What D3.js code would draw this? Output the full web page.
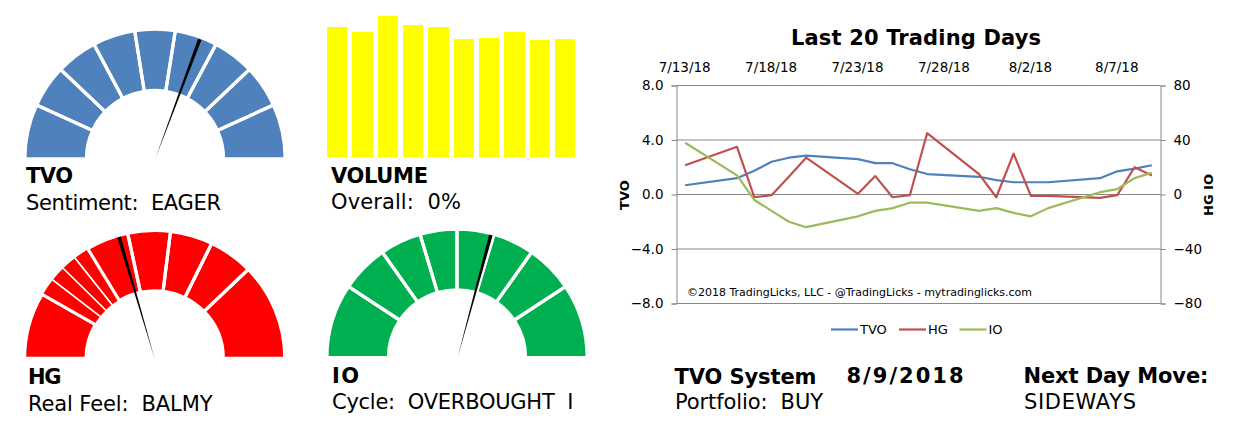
<!DOCTYPE html>
<html>
<head>
<meta charset="utf-8">
<title>TVO System</title>
<script src="https://cdnjs.cloudflare.com/ajax/libs/d3/7.8.5/d3.min.js"></script>
<style>
html, body { margin: 0; padding: 0; background: #fff; }
svg { display: block; }
text { font-family: "DejaVu Sans", Verdana, sans-serif; fill: #000; white-space: pre; }
.head { font-size: 21px; font-weight: bold; }
.sub { font-size: 21px; }
.axis-title { font-size: 13px; font-weight: bold; }
</style>
</head>
<body>
<svg id="chart" width="1240" height="440"></svg>
<script>
// gauge slices, in degrees round the half circle
var tvoSlices = [24.5, 19, 18.5, 19, 18, 19, 18.5, 19, 24.5];
var hgSlices = [30, 8, 7, 7, 7, 19, 19, 19, 20, 44];
var ioSlices = [33.5, 21.5, 18.5, 16.5, 16.5, 18.5, 21.5, 33.5];

// needle readings, same degrees
var tvoNeedle = 110.4;
var hgNeedle = 73.7;
var ioNeedle = 105.2;

var volume = [130, 125, 141, 132, 130, 118, 119, 125, 117, 118];

var days = ['7/13/18', '7/16/18', '7/17/18', '7/18/18', '7/19/18', '7/20/18', '7/23/18',
    '7/24/18', '7/25/18', '7/26/18', '7/27/18', '7/30/18', '7/31/18', '8/1/18', '8/2/18',
    '8/3/18', '8/6/18', '8/7/18', '8/8/18', '8/9/18'];
var tvo = [0.68, 1.2, 1.75, 2.4, 2.7, 2.85, 2.6, 2.3, 2.3, 1.85, 1.5, 1.3, 1.05, 0.9, 0.9,
    0.9, 1.2, 1.7, 1.9, 2.15];
var hg = [21.5, 35, -2, -0.5, 13, 27, 0.5, 13.5, -2, -0.5, 45, 15, -2, 30, -1,
    -1, -2.5, -0.5, 20, 14];
var io = [38, 14, -4, -12, -20, -24, -16, -12, -10, -6, -6, -12, -10, -13.5, -16,
    -10, 1.7, 4, 12, 16];

var dateTicks = ['7/13/18', '7/18/18', '7/23/18', '7/28/18', '8/2/18', '8/7/18'];
var leftTicks = [-8, -4, 0, 4, 8];
var rightTicks = [-80, -40, 0, 40, 80];

var svg = d3.select('#chart');

function drawGauge(slices, reading, color, cx, cy, baseX, baseY, ry) {
    var pie = d3.pie().sort(null).value(function (d) { return d; })
        .startAngle(-Math.PI / 2).endAngle(Math.PI / 2);
    var arc = d3.arc().innerRadius(68.6).outerRadius(130.1);
    var g = svg.append('g')
        .attr('transform', 'translate(' + cx + ',' + cy + ') scale(1,' + ry + ')');
    var arcs = pie(slices);

    g.selectAll('path.fill').data(arcs).enter().append('path')
        .attr('class', 'fill')
        .attr('d', arc)
        .style('fill', color);
    // white borders go on after all fills, small slices get a thinner one
    g.selectAll('path.edge').data(arcs).enter().append('path')
        .attr('class', 'edge')
        .attr('d', arc)
        .style('fill', 'none')
        .style('stroke', '#fff')
        .style('stroke-width', function (d) { return d.data < 10 ? 1.4 : 3.2; });

    var angle = d3.scaleLinear().domain([0, 180]).range([Math.PI, 0]);
    var a = angle(reading);
    var len = 127;
    var tipX = baseX + len * Math.cos(a);
    var tipY = baseY - len * Math.sin(a);
    var nx = Math.sin(a) * 1.8;
    var ny = Math.cos(a) * 1.8;
    svg.append('path')
        .attr('d', d3.line()([[baseX, baseY], [tipX - nx, tipY - ny], [tipX + nx, tipY + ny]]) + 'Z')
        .style('fill', '#000');
}

// width is the length, font metrics differ a little
function label(x, y, cls, str, width) {
    svg.append('text').attr('class', cls).attr('x', x).attr('y', y)
        .attr('textLength', width)
        .text(str);
}

drawGauge(tvoSlices, tvoNeedle, '#4F81BD', 155, 158.8, 155.5, 158.3, 0.997);
drawGauge(hgSlices, hgNeedle, '#FF0000', 154.7, 358.3, 154.7, 359, 0.983);
drawGauge(ioSlices, ioNeedle, '#00B050', 457, 357.6, 457.6, 357.5, 0.988);

label(26, 183, 'head', 'TVO', 47);
label(26, 210, 'sub', 'Sentiment:  EAGER', 195);
label(28, 384, 'head', 'HG', 33.5);
label(28, 410.5, 'sub', 'Real Feel:  BALMY', 184.5);
label(331, 183, 'head', 'VOLUME', 97);
label(331, 208.5, 'sub', 'Overall:  0%', 130);
label(332, 383, 'head', 'IO', 27);
label(332, 409, 'sub', 'Cycle:  OVERBOUGHT  I', 241.5);

// volume bars
var volX = d3.scaleBand().domain(d3.range(volume.length))
    .range([324.5, 577.8]).paddingInner(0.2).paddingOuter(0.1);
var volY = d3.scaleLinear().domain([0, 141]).range([157, 16]);
svg.selectAll('rect.vol').data(volume).enter().append('rect')
    .attr('class', 'vol')
    .attr('x', function (d, i) { return volX(i); })
    .attr('y', function (d) { return volY(d); })
    .attr('width', volX.bandwidth())
    .attr('height', function (d) { return volY(0) - volY(d); })
    .attr('shape-rendering', 'crispEdges')
    .style('fill', '#FFFF00');

// line chart
var parseDay = d3.utcParse('%-m/%-d/%y');
var dates = days.map(parseDay);
var halfDay = 12 * 60 * 60 * 1000;
var plot = { left: 676.5, right: 1160.5, top: 85.5, bottom: 303.5 };

var x = d3.scaleUtc()
    .domain([new Date(+dates[0] - halfDay), new Date(+dates[dates.length - 1] + halfDay)])
    .range([plot.left, plot.right]);
var yLeft = d3.scaleLinear().domain([-8, 8]).range([plot.bottom, plot.top]);
var yRight = d3.scaleLinear().domain([-80, 80]).range([plot.bottom, plot.top]);

var axisColor = '#868686';

var leftAxis = svg.append('g')
    .attr('transform', 'translate(' + plot.left + ',0)')
    .call(d3.axisLeft(yLeft).tickValues(leftTicks).tickSize(5).tickPadding(8)
        .tickFormat(d3.format('.1f')));
var rightAxis = svg.append('g')
    .attr('transform', 'translate(' + plot.right + ',0)')
    .call(d3.axisRight(yRight).tickValues(rightTicks).tickSize(5).tickPadding(8)
        .tickFormat(d3.format('d')));
var topAxis = svg.append('g')
    .attr('transform', 'translate(-1,72)')
    .call(d3.axisTop(x).tickValues(dateTicks.map(parseDay)).tickSize(0).tickPadding(0)
        .tickFormat(d3.utcFormat('%-m/%-d/%y')));
topAxis.select('.domain').remove();

svg.selectAll('line.grid').data(leftTicks).enter().append('line')
    .attr('class', 'grid')
    .attr('x1', plot.left)
    .attr('x2', plot.right)
    .attr('y1', function (d) { return yLeft(d); })
    .attr('y2', function (d) { return yLeft(d); })
    .style('stroke', axisColor);

[leftAxis, rightAxis].forEach(function (a) {
    a.selectAll('.domain, .tick line').style('stroke', axisColor);
});
svg.selectAll('.tick text')
    .style('font-family', '"DejaVu Sans", Verdana, sans-serif')
    .style('font-size', '13.5px')
    .style('fill', '#000');

var series = [
    { name: 'TVO', values: tvo, scale: yLeft, color: '#4F81BD' },
    { name: 'HG', values: hg, scale: yRight, color: '#C0504D' },
    { name: 'IO', values: io, scale: yRight, color: '#9BBB59' }
];
series.forEach(function (s) {
    var line = d3.line()
        .x(function (d, i) { return x(dates[i]); })
        .y(function (d) { return s.scale(d); });
    svg.append('path')
        .attr('d', line(s.values))
        .style('fill', 'none')
        .style('stroke', s.color)
        .style('stroke-width', 2.2)
        .style('stroke-linejoin', 'round');
});

svg.append('text').attr('x', 791).attr('y', 45)
    .attr('textLength', 250)
    .style('font-size', '21px').style('font-weight', 'bold')
    .text('Last 20 Trading Days');
svg.append('text').attr('class', 'axis-title')
    .attr('transform', 'translate(629,195) rotate(-90)')
    .attr('text-anchor', 'middle').text('TVO');
svg.append('text').attr('class', 'axis-title')
    .attr('transform', 'translate(1213,195) rotate(-90)')
    .attr('text-anchor', 'middle').text('HG IO');
svg.append('text').attr('x', 687).attr('y', 296)
    .attr('textLength', 345)
    .style('font-size', '11px')
    .text('\u00A92018 TradingLicks, LLC - @TradingLicks - mytradinglicks.com');

// legend
var legendX = [831, 899, 959.5];
series.forEach(function (s, i) {
    svg.append('line')
        .attr('x1', legendX[i]).attr('x2', legendX[i] + 27)
        .attr('y1', 329.5).attr('y2', 329.5)
        .style('stroke', s.color).style('stroke-width', 2.2);
    svg.append('text')
        .attr('x', legendX[i] + 29).attr('y', 334)
        .style('font-size', '13px')
        .text(s.name);
});

label(674.5, 384, 'head', 'TVO System', 142);
label(846.5, 383, 'head', '8/9/2018', 117);
label(1023.5, 383, 'head', 'Next Day Move:', 185);
label(675, 409, 'sub', 'Portfolio:  BUY', 148);
label(1024, 409, 'sub', 'SIDEWAYS', 112);
</script>
</body>
</html>
